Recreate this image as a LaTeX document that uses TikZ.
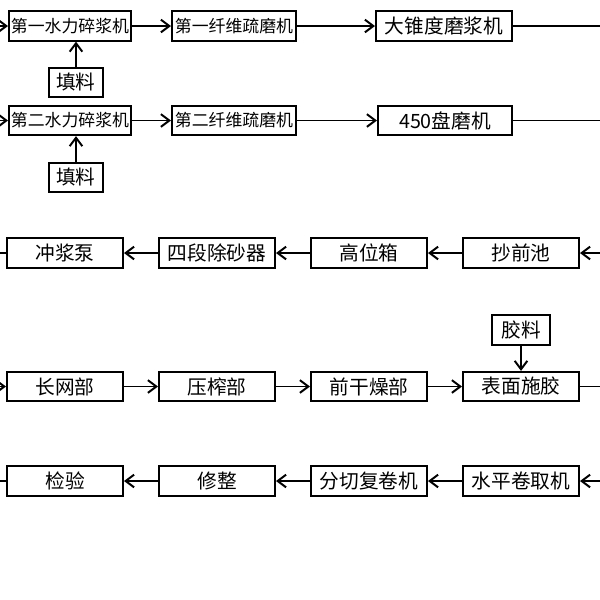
\documentclass[tikz,border=0pt]{standalone}
\usepackage{fontspec}
\newfontfamily\cjk{Noto Sans CJK SC}
\usetikzlibrary{arrows.meta,positioning}
\tikzset{
  pre/.style   = {{Straight Barb[length=6pt,width=9pt]}-, line width=1.4pt},
  post/.style  = {-{Straight Barb[length=6pt,width=9pt]}, line width=1.4pt},
  plain/.style = {line width=1.4pt},
  stage/.style = {draw, rectangle, line width=1.4pt, minimum width=2.9cm, minimum height=0.73cm,
                  inner sep=0pt, font=\cjk\fontsize{14}{16}\selectfont},
  small/.style = {font=\cjk\fontsize{12}{14}\selectfont}
}

\begin{document}
\begin{tikzpicture}[x=0.025cm, y=-0.025cm]
  \useasboundingbox (0,0) rectangle (600,600);
  % loose ends at the picture edge
  \coordinate (inA) at (0,26);   \coordinate (outA) at (600,26);
  \coordinate (inB) at (0,120.5); \coordinate (outB) at (600,120.5);
  \coordinate (outC) at (0,253); \coordinate (inC) at (600,253);
  \coordinate (inD) at (0,386.5); \coordinate (outD) at (600,386.5);
  \coordinate (outE) at (0,481); \coordinate (inE) at (600,481);
  % pulping, two lines
  \node[stage, small, minimum width=3.05cm] (pulperA) at (70,26) {第一水力碎浆机} edge [pre] (inA);
  \node[stage, small, minimum width=3.1cm] (deflakerA) at (234,26) {第一纤维疏磨机} edge [pre] (pulperA);
  \node[stage, minimum width=3.4cm] (refiner) at (444,26) {大锥度磨浆机}
    edge [pre] (deflakerA) edge [plain] (outA);
  \node[stage, minimum width=1.35cm] (fillA) at (76,82.5) {填料};
  \draw[post] (fillA) -- (fillA |- pulperA.south);
  \node[stage, small, minimum width=3.05cm] (pulperB) at (70,120.5) {第二水力碎浆机} edge [pre] (inB);
  \node[stage, small, minimum width=3.1cm] (deflakerB) at (234,120.5) {第二纤维疏磨机} edge [pre] (pulperB);
  \node[stage, minimum width=3.35cm] (disc) at (445,120.5) {450盘磨机}
    edge [pre] (deflakerB) edge [plain] (outB);
  \node[stage, minimum width=1.35cm] (fillB) at (76,177.5) {填料};
  \draw[post] (fillB) -- (fillB |- pulperB.south);
  % approach flow
  \node[stage] (chest) at (521,253) {抄前池} edge [pre] (inC);
  \node[stage] (headbox) at (369,253) {高位箱} edge [pre] (chest);
  \node[stage] (cleaner) at (217,253) {四段除砂器} edge [pre] (headbox);
  \node[stage] (fanpump) at (65,253) {冲浆泵} edge [pre] (cleaner) edge [plain] (outC);
  % paper machine
  \node[stage] (wire) at (65,386.5) {长网部} edge [pre] (inD);
  \node[stage] (press) at (217,386.5) {压榨部} edge [pre] (wire);
  \node[stage] (dryer) at (369,386.5) {前干燥部} edge [pre] (press);
  \node[stage] (sizing) at (521,386.5) {表面施胶} edge [pre] (dryer) edge [plain] (outD);
  \node[stage, minimum width=1.45cm] (glue) at (521,330) {胶料} edge [post] (sizing);
  % finishing
  \node[stage] (reel) at (521,481) {水平卷取机} edge [pre] (inE);
  \node[stage] (winder) at (369,481) {分切复卷机} edge [pre] (reel);
  \node[stage] (trim) at (217,481) {修整} edge [pre] (winder);
  \node[stage] (check) at (65,481) {检验} edge [pre] (trim) edge [plain] (outE);
\end{tikzpicture}
\end{document}
